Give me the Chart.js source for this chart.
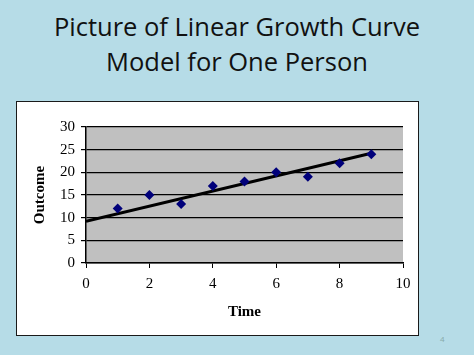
<!DOCTYPE html>
<html>
<head>
<meta charset="utf-8">
<script src="https://cdn.jsdelivr.net/npm/chart.js@4/dist/chart.umd.min.js"></script>
<style>
  html, body { margin:0; padding:0; }
  body { width:474px; height:355px; background:#b6dce7; position:relative; overflow:hidden; }
  #title { position:absolute; left:0; top:9px; width:474px; text-align:center;
    font-family:"Open Sans", sans-serif; font-size:25.5px; line-height:35px; color:#111; }
  #box { position:absolute; left:16px; top:101px; width:401px; height:233px;
    background:#fff; border:1.5px solid #1a1a1a; }
  #page { position:absolute; left:440px; top:333px; font-family:"Open Sans", sans-serif;
    font-size:8px; color:#8aa; }
</style>
</head>
<body>
<div id="title">Picture of Linear Growth Curve<br>Model for One Person</div>
<div id="box"><canvas id="c" width="401" height="233"></canvas></div>
<div id="page">4</div>
<script>
const times = [1, 2, 3, 4, 5, 6, 7, 8, 9];
const outcomes = [12, 15, 13, 17, 18, 20, 19, 22, 24];
const fitX = [0, 9];
const fitY = [9.2, 24.2];
const xTicks = [0, 2, 4, 6, 8, 10];
const yTicks = [0, 5, 10, 15, 20, 25, 30];
const xTitle = "Time";
const yTitle = "Outcome";

const grayArea = {
  id: 'grayArea',
  beforeDraw(chart) {
    const {ctx, chartArea: a} = chart;
    ctx.save();
    ctx.fillStyle = '#c0c0c0';
    ctx.fillRect(a.left, a.top, a.right - a.left, a.bottom - a.top);
    ctx.restore();
  }
};

new Chart(document.getElementById('c'), {
  type: 'scatter',
  data: {
    datasets: [
      {
        type: 'line',
        data: fitX.map((x, i) => ({x, y: fitY[i]})),
        borderColor: '#000',
        borderWidth: 3,
        pointRadius: 0,
        fill: false,
        order: 2
      },
      {
        data: times.map((x, i) => ({x, y: outcomes[i]})),
        pointStyle: 'rectRot',
        pointRadius: 5,
        backgroundColor: '#00007a',
        borderColor: '#00007a',
        borderWidth: 0,
        order: 1
      }
    ]
  },
  options: {
    responsive: false,
    animation: false,
    layout: { padding: { left: 0, right: 15, top: 25, bottom: 0 } },
    plugins: { legend: { display: false }, tooltip: { enabled: false } },
    scales: {
      x: {
        type: 'linear', min: 0, max: 10,
        afterBuildTicks(s) { s.ticks = xTicks.map(v => ({value: v})); },
        afterFit(s) { s.height = 72; },
        grid: { drawOnChartArea: false, drawTicks: true, tickLength: 5, color: '#000', tickColor: '#000' },
        border: { color: '#000', width: 1.5 },
        ticks: { color: '#000', font: { family: '"Liberation Serif", serif', size: 15 }, padding: 7, maxRotation: 0 },
        title: { display: true, text: xTitle, color: '#000',
          font: { family: '"Liberation Serif", serif', size: 15, weight: 'bold' }, padding: { top: 8, bottom: 14 } }
      },
      y: {
        min: 0, max: 30,
        afterBuildTicks(s) { s.ticks = yTicks.map(v => ({value: v})); },
        afterFit(s) { s.width = 69; },
        grid: { drawOnChartArea: true, drawTicks: true, tickLength: 5, color: '#000', tickColor: '#000', lineWidth: 1.2 },
        border: { color: '#000', width: 1.5 },
        ticks: { color: '#000', font: { family: '"Liberation Serif", serif', size: 15 }, padding: 6 },
        title: { display: true, text: yTitle, color: '#000',
          font: { family: '"Liberation Serif", serif', size: 15, weight: 'bold' }, padding: { top: 14, bottom: 4 } }
      }
    }
  },
  plugins: [grayArea]
});
</script>
</body>
</html>
